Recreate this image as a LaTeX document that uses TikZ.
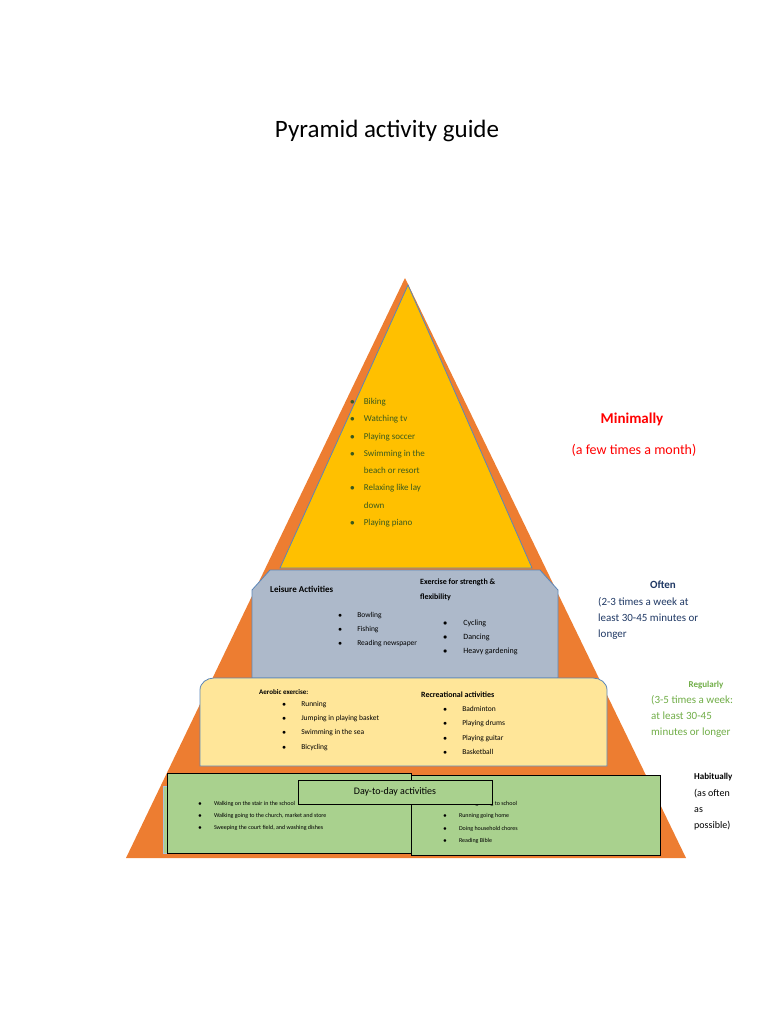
\documentclass[tikz,border=0pt]{standalone}
\usepackage{fontspec}
\setmainfont{Carlito}
\usetikzlibrary{positioning}
\definecolor{pyrorange}{HTML}{ED7D31}
\definecolor{pyryellow}{HTML}{FFC000}
\definecolor{pyrgray}{HTML}{ADB9CA}
\definecolor{pyrcream}{HTML}{FFE699}
\definecolor{pyrgreen}{HTML}{A9D18E}
\definecolor{pyredge}{HTML}{5B86B8}
\definecolor{pyrnavy}{HTML}{1F3864}
\definecolor{pyrlime}{HTML}{70AD47}
\definecolor{pyrtext}{HTML}{3A5A1E}
\begin{document}
\begin{tikzpicture}[%
		x=1pt,y=-1pt,
		tier/.style={draw=pyredge,thick},%
		item/.style={align=left,anchor=north west,inner sep=0pt,font=\fontsize{7}{11.5}\selectfont},%
		head/.style={anchor=north west,inner sep=0pt,font=\fontsize{8}{12}\selectfont\bfseries},%
		freq/.style={anchor=north west,inner sep=0pt,align=left,font=\fontsize{11}{16}\selectfont}
		]
		\useasboundingbox (0,0) rectangle (768,1024);
		% title
		\node (title) at (387,131) {\fontsize{25}{30}\selectfont Pyramid activity guide};
		% outer pyramid
		\fill[pyrorange] (405,278)--(686,858)--(126,858)--cycle;
		% top tier
		\draw[tier,fill=pyryellow] (408,285)--(532,568)--(280,568)--cycle;
		\node[item,text=pyrtext,font=\fontsize{9}{17.3}\selectfont] (topl) at (350,398)
			{$\bullet$\quad Biking\\$\bullet$\quad Watching tv\\$\bullet$\quad Playing soccer\\$\bullet$\quad Swimming in the\\\phantom{$\bullet$}\quad beach or resort\\$\bullet$\quad Relaxing like lay\\\phantom{$\bullet$}\quad down\\$\bullet$\quad Playing piano};
		% leisure tier
		\draw[tier,fill=pyrgray] (270,570)--(540,570)--(558,590)--(558,678)--(252,678)--(252,590)--cycle;
		\node[head,font=\fontsize{9}{12}\selectfont\bfseries] (leis) at (270,586) {Leisure Activities};
		\node[head,align=left,font=\fontsize{8}{15}\selectfont\bfseries] (strg) at (420,579) {Exercise for strength \&\\flexibility};
		\node[item,font=\fontsize{7.5}{14}\selectfont] (leisl) at (338,612) {$\bullet$\qquad Bowling\\$\bullet$\qquad Fishing\\$\bullet$\qquad Reading newspaper};
		\node[item,font=\fontsize{8}{14}\selectfont] (strgl) at (443,620) {$\bullet$\qquad Cycling\\$\bullet$\qquad Dancing\\$\bullet$\qquad Heavy gardening};
		% regular tier
		\draw[tier,fill=pyrcream] (200,766)--(200,690) to[out=90,in=180] (214,678)--(593,678) to[out=0,in=90] (607,690)--(607,766)--cycle;
		\node[head,font=\fontsize{7}{12}\selectfont\bfseries] (aero) at (259,689) {Aerobic exercise:};
		\node[item,font=\fontsize{7.5}{14.3}\selectfont] (aerol) at (282,701) {$\bullet$\qquad Running\\$\bullet$\qquad Jumping in playing basket\\$\bullet$\qquad Swimming in the sea\\$\bullet$\qquad Bicycling};
		\node[head] (recr) at (421,692) {Recreational activities};
		\node[item,font=\fontsize{7.5}{14.3}\selectfont] (recrl) at (443,706) {$\bullet$\qquad Badminton\\$\bullet$\qquad Playing drums\\$\bullet$\qquad Playing guitar\\$\bullet$\qquad Basketball};
		% day-to-day tier
		\draw[pyredge!50,fill=pyrgreen] (163,786) rectangle (170,853);
		\draw[thick,fill=pyrgreen] (167,773) rectangle (411,853);
		\draw[thick,fill=pyrgreen] (411,775) rectangle (660,855);
		\node[item,font=\fontsize{6}{12}\selectfont] (dayl) at (198,801) {$\bullet$\qquad Walking on the stair in the school\\$\bullet$\qquad Walking going to the church, market and store\\$\bullet$\qquad Sweeping the court field, and washing dishes};
		\node[item,font=\fontsize{6}{12.5}\selectfont] (dayr) at (443,801) {$\bullet$\qquad Walking doing to school\\$\bullet$\qquad Running going home\\$\bullet$\qquad Doing household chores\\$\bullet$\qquad Reading Bible};
		\node[draw,thick,fill=pyrgreen,minimum width=194,minimum height=24,font=\fontsize{10}{12}\selectfont] (day) at (395,792) {Day-to-day activities};
		% frequencies
		\node[text=red,font=\fontsize{15}{18}\selectfont\bfseries] (mini) at (632,419) {Minimally};
		\node[text=red,font=\fontsize{14}{18}\selectfont] (minit) at (634,450) {(a few times a month)};
		\node[text=pyrnavy,font=\fontsize{11}{14}\selectfont\bfseries] (often) at (663,585) {Often};
		\node[freq,text=pyrnavy] (oftent) at (598,597) {(2-3 times a week at\\least 30-45 minutes or\\longer};
		\node[text=pyrlime,font=\fontsize{9}{12}\selectfont\bfseries] (reg) at (706,685) {Regularly};
		\node[freq,text=pyrlime] (regt) at (651,695) {(3-5 times a week:\\at least 30-45\\minutes or longer};
		\node[freq,font=\fontsize{9}{12}\selectfont\bfseries] (hab) at (694,773) {Habitually};
		\node[freq,font=\fontsize{10}{16}\selectfont] (habt) at (694,789) {(as often\\as\\possible)};
	\end{tikzpicture}
\end{document}
